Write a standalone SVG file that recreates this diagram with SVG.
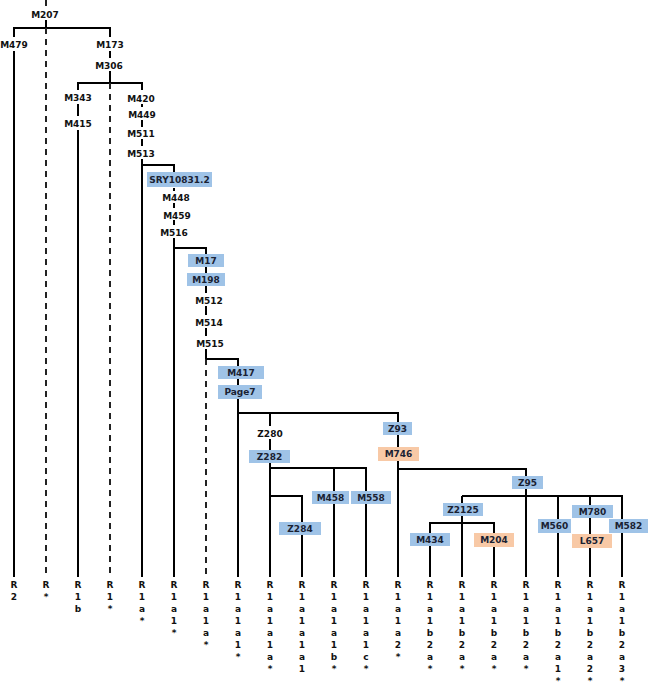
<svg xmlns="http://www.w3.org/2000/svg" width="650" height="685" viewBox="0 0 650 685">
<style>
.ln{stroke:#000;stroke-width:2;fill:none}
.ds{stroke:#222;stroke-width:2;fill:none;stroke-dasharray:6 5}
.t{font-family:"DejaVu Sans","Verdana",sans-serif;font-weight:bold;font-size:9px;fill:#111;text-anchor:middle}
.bt{font-family:"DejaVu Sans","Verdana",sans-serif;font-weight:bold;font-size:9px;fill:#1a2233;text-anchor:middle}
.b{fill:#9fc3e7}
.o{fill:#f8c9a6}
</style>
<rect width="650" height="685" fill="#fff"/>
<g id="connectors">
<path class="ds" d="M46,0 V8"/>
<path class="ln" d="M46,20 V28 M14,37 V28 H110 V37"/>
<path class="ln" d="M14,51 V577"/>
<path class="ds" d="M46,28 V577"/>
<path class="ln" d="M110,51 V58 M110,71 V83 M78,90 V83 H142 V90"/>
<path class="ds" d="M110,83 V577"/>
<path class="ln" d="M78,104 V116 M78,130 V577"/>
<path class="ln" d="M142,104 V107 M142,120 V127 M142,139 V146 M142,159 V577"/>
<path class="ln" d="M142,165 H174 V172"/>
<path class="ln" d="M174,188 V191 M174,203 V208 M174,220 V225 M174,238 V577"/>
<path class="ln" d="M174,248 H206 V254 M206,267 V273 M206,286 V293 M206,306 V315 M206,328 V336 M206,349 V359"/>
<path class="ds" d="M206,359 V577"/>
<path class="ln" d="M206,359 H238 V366 M238,378 V385 M238,399 V577"/>
<path class="ln" d="M238,413 H398 V577 M270,413 V426 M270,439 V577"/>
<path class="ln" d="M270,468 H366 V577 M334,468 V577"/>
<path class="ln" d="M270,496 H302 V577"/>
<path class="ln" d="M398,469 H526 V577"/>
<path class="ln" d="M462,496 H622 V577 M462,496 V577 M558,496 V577 M590,496 V577"/>
<path class="ln" d="M430,577 V523 H494 V577"/>
</g>
<g id="n-M207"><text class="t" x="45" y="17.5">M207</text></g>
<g id="n-M479"><text class="t" x="14" y="47.5">M479</text></g>
<g id="n-M173"><text class="t" x="110" y="47.5">M173</text></g>
<g id="n-M306"><text class="t" x="109" y="68.5">M306</text></g>
<g id="n-M343"><text class="t" x="78" y="100.5">M343</text></g>
<g id="n-M415"><text class="t" x="78" y="126.5">M415</text></g>
<g id="n-M420"><text class="t" x="141" y="101.5">M420</text></g>
<g id="n-M449"><text class="t" x="142" y="117.5">M449</text></g>
<g id="n-M511"><text class="t" x="141" y="136.5">M511</text></g>
<g id="n-M513"><text class="t" x="141" y="156.5">M513</text></g>
<g id="n-SRY10831.2"><rect class="b" x="147" y="172" width="65" height="15"/><text class="bt" x="179.5" y="182.5">SRY10831.2</text></g>
<g id="n-M448"><text class="t" x="176" y="200.5">M448</text></g>
<g id="n-M459"><text class="t" x="177" y="218.5">M459</text></g>
<g id="n-M516"><text class="t" x="174" y="235.5">M516</text></g>
<g id="n-M17"><rect class="b" x="188" y="254" width="36" height="13"/><text class="bt" x="206" y="263.8">M17</text></g>
<g id="n-M198"><rect class="b" x="187" y="273" width="38" height="13"/><text class="bt" x="206" y="282.8">M198</text></g>
<g id="n-M512"><text class="t" x="209" y="303.5">M512</text></g>
<g id="n-M514"><text class="t" x="209" y="325.5">M514</text></g>
<g id="n-M515"><text class="t" x="210" y="346.5">M515</text></g>
<g id="n-M417"><rect class="b" x="218" y="366" width="46" height="13"/><text class="bt" x="241" y="375.8">M417</text></g>
<g id="n-Page7"><rect class="b" x="218" y="385" width="44" height="14"/><text class="bt" x="240" y="395.3">Page7</text></g>
<g id="n-Z280"><text class="t" x="270" y="436.5">Z280</text></g>
<g id="n-Z282"><rect class="b" x="249" y="450" width="41" height="13"/><text class="bt" x="269.5" y="459.8">Z282</text></g>
<g id="n-M458"><rect class="b" x="312" y="491" width="37" height="13"/><text class="bt" x="330.5" y="500.8">M458</text></g>
<g id="n-M558"><rect class="b" x="351" y="491" width="40" height="13"/><text class="bt" x="371" y="500.8">M558</text></g>
<g id="n-Z284"><rect class="b" x="279" y="522" width="42" height="13"/><text class="bt" x="300" y="531.8">Z284</text></g>
<g id="n-Z93"><rect class="b" x="383" y="422" width="29" height="13"/><text class="bt" x="397.5" y="431.8">Z93</text></g>
<g id="n-M746"><rect class="o" x="378" y="447" width="41" height="14"/><text class="bt" x="398.5" y="457.3">M746</text></g>
<g id="n-Z95"><rect class="b" x="512" y="476" width="31" height="13"/><text class="bt" x="527.5" y="485.8">Z95</text></g>
<g id="n-Z2125"><rect class="b" x="443" y="503" width="40" height="13"/><text class="bt" x="463" y="512.8">Z2125</text></g>
<g id="n-M434"><rect class="b" x="410" y="533" width="40" height="13"/><text class="bt" x="430" y="542.8">M434</text></g>
<g id="n-M204"><rect class="o" x="474" y="533" width="40" height="14"/><text class="bt" x="494" y="543.3">M204</text></g>
<g id="n-M560"><rect class="b" x="538" y="519" width="33" height="14"/><text class="bt" x="554.5" y="529.3">M560</text></g>
<g id="n-M780"><rect class="b" x="572" y="505" width="41" height="13"/><text class="bt" x="592.5" y="514.8">M780</text></g>
<g id="n-L657"><rect class="o" x="572" y="534" width="40" height="14"/><text class="bt" x="592" y="544.3">L657</text></g>
<g id="n-M582"><rect class="b" x="609" y="519" width="39" height="14"/><text class="bt" x="628.5" y="529.3">M582</text></g>
<g id="leaves">
<g id="leaf-R2"><text class="t" y="587.5"><tspan x="14">R</tspan><tspan x="14" dy="12.1">2</tspan></text></g>
<g id="leaf-Rx"><text class="t" y="587.5"><tspan x="46">R</tspan><tspan x="46" dy="12.1">*</tspan></text></g>
<g id="leaf-R1b"><text class="t" y="587.5"><tspan x="78">R</tspan><tspan x="78" dy="12.1">1</tspan><tspan x="78" dy="12.1">b</tspan></text></g>
<g id="leaf-R1x"><text class="t" y="587.5"><tspan x="110">R</tspan><tspan x="110" dy="12.1">1</tspan><tspan x="110" dy="12.1">*</tspan></text></g>
<g id="leaf-R1ax"><text class="t" y="587.5"><tspan x="142">R</tspan><tspan x="142" dy="12.1">1</tspan><tspan x="142" dy="12.1">a</tspan><tspan x="142" dy="12.1">*</tspan></text></g>
<g id="leaf-R1a1x"><text class="t" y="587.5"><tspan x="174">R</tspan><tspan x="174" dy="12.1">1</tspan><tspan x="174" dy="12.1">a</tspan><tspan x="174" dy="12.1">1</tspan><tspan x="174" dy="12.1">*</tspan></text></g>
<g id="leaf-R1a1ax"><text class="t" y="587.5"><tspan x="206">R</tspan><tspan x="206" dy="12.1">1</tspan><tspan x="206" dy="12.1">a</tspan><tspan x="206" dy="12.1">1</tspan><tspan x="206" dy="12.1">a</tspan><tspan x="206" dy="12.1">*</tspan></text></g>
<g id="leaf-R1a1a1x"><text class="t" y="587.5"><tspan x="238">R</tspan><tspan x="238" dy="12.1">1</tspan><tspan x="238" dy="12.1">a</tspan><tspan x="238" dy="12.1">1</tspan><tspan x="238" dy="12.1">a</tspan><tspan x="238" dy="12.1">1</tspan><tspan x="238" dy="12.1">*</tspan></text></g>
<g id="leaf-R1a1a1ax"><text class="t" y="587.5"><tspan x="270">R</tspan><tspan x="270" dy="12.1">1</tspan><tspan x="270" dy="12.1">a</tspan><tspan x="270" dy="12.1">1</tspan><tspan x="270" dy="12.1">a</tspan><tspan x="270" dy="12.1">1</tspan><tspan x="270" dy="12.1">a</tspan><tspan x="270" dy="12.1">*</tspan></text></g>
<g id="leaf-R1a1a1a1"><text class="t" y="587.5"><tspan x="302">R</tspan><tspan x="302" dy="12.1">1</tspan><tspan x="302" dy="12.1">a</tspan><tspan x="302" dy="12.1">1</tspan><tspan x="302" dy="12.1">a</tspan><tspan x="302" dy="12.1">1</tspan><tspan x="302" dy="12.1">a</tspan><tspan x="302" dy="12.1">1</tspan></text></g>
<g id="leaf-R1a1a1bx"><text class="t" y="587.5"><tspan x="334">R</tspan><tspan x="334" dy="12.1">1</tspan><tspan x="334" dy="12.1">a</tspan><tspan x="334" dy="12.1">1</tspan><tspan x="334" dy="12.1">a</tspan><tspan x="334" dy="12.1">1</tspan><tspan x="334" dy="12.1">b</tspan><tspan x="334" dy="12.1">*</tspan></text></g>
<g id="leaf-R1a1a1cx"><text class="t" y="587.5"><tspan x="366">R</tspan><tspan x="366" dy="12.1">1</tspan><tspan x="366" dy="12.1">a</tspan><tspan x="366" dy="12.1">1</tspan><tspan x="366" dy="12.1">a</tspan><tspan x="366" dy="12.1">1</tspan><tspan x="366" dy="12.1">c</tspan><tspan x="366" dy="12.1">*</tspan></text></g>
<g id="leaf-R1a1a2x"><text class="t" y="587.5"><tspan x="398">R</tspan><tspan x="398" dy="12.1">1</tspan><tspan x="398" dy="12.1">a</tspan><tspan x="398" dy="12.1">1</tspan><tspan x="398" dy="12.1">a</tspan><tspan x="398" dy="12.1">2</tspan><tspan x="398" dy="12.1">*</tspan></text></g>
<g id="leaf-R1a1b2ax-1"><text class="t" y="587.5"><tspan x="430">R</tspan><tspan x="430" dy="12.1">1</tspan><tspan x="430" dy="12.1">a</tspan><tspan x="430" dy="12.1">1</tspan><tspan x="430" dy="12.1">b</tspan><tspan x="430" dy="12.1">2</tspan><tspan x="430" dy="12.1">a</tspan><tspan x="430" dy="12.1">*</tspan></text></g>
<g id="leaf-R1a1b2ax-2"><text class="t" y="587.5"><tspan x="462">R</tspan><tspan x="462" dy="12.1">1</tspan><tspan x="462" dy="12.1">a</tspan><tspan x="462" dy="12.1">1</tspan><tspan x="462" dy="12.1">b</tspan><tspan x="462" dy="12.1">2</tspan><tspan x="462" dy="12.1">a</tspan><tspan x="462" dy="12.1">*</tspan></text></g>
<g id="leaf-R1a1b2ax-3"><text class="t" y="587.5"><tspan x="494">R</tspan><tspan x="494" dy="12.1">1</tspan><tspan x="494" dy="12.1">a</tspan><tspan x="494" dy="12.1">1</tspan><tspan x="494" dy="12.1">b</tspan><tspan x="494" dy="12.1">2</tspan><tspan x="494" dy="12.1">a</tspan><tspan x="494" dy="12.1">*</tspan></text></g>
<g id="leaf-R1a1b2ax-4"><text class="t" y="587.5"><tspan x="526">R</tspan><tspan x="526" dy="12.1">1</tspan><tspan x="526" dy="12.1">a</tspan><tspan x="526" dy="12.1">1</tspan><tspan x="526" dy="12.1">b</tspan><tspan x="526" dy="12.1">2</tspan><tspan x="526" dy="12.1">a</tspan><tspan x="526" dy="12.1">*</tspan></text></g>
<g id="leaf-R1a1b2a1x"><text class="t" y="587.5"><tspan x="558">R</tspan><tspan x="558" dy="12.1">1</tspan><tspan x="558" dy="12.1">a</tspan><tspan x="558" dy="12.1">1</tspan><tspan x="558" dy="12.1">b</tspan><tspan x="558" dy="12.1">2</tspan><tspan x="558" dy="12.1">a</tspan><tspan x="558" dy="12.1">1</tspan><tspan x="558" dy="12.1">*</tspan></text></g>
<g id="leaf-R1a1b2a2x"><text class="t" y="587.5"><tspan x="590">R</tspan><tspan x="590" dy="12.1">1</tspan><tspan x="590" dy="12.1">a</tspan><tspan x="590" dy="12.1">1</tspan><tspan x="590" dy="12.1">b</tspan><tspan x="590" dy="12.1">2</tspan><tspan x="590" dy="12.1">a</tspan><tspan x="590" dy="12.1">2</tspan><tspan x="590" dy="12.1">*</tspan></text></g>
<g id="leaf-R1a1b2a3x"><text class="t" y="587.5"><tspan x="622">R</tspan><tspan x="622" dy="12.1">1</tspan><tspan x="622" dy="12.1">a</tspan><tspan x="622" dy="12.1">1</tspan><tspan x="622" dy="12.1">b</tspan><tspan x="622" dy="12.1">2</tspan><tspan x="622" dy="12.1">a</tspan><tspan x="622" dy="12.1">3</tspan><tspan x="622" dy="12.1">*</tspan></text></g>
</g>
</svg>
